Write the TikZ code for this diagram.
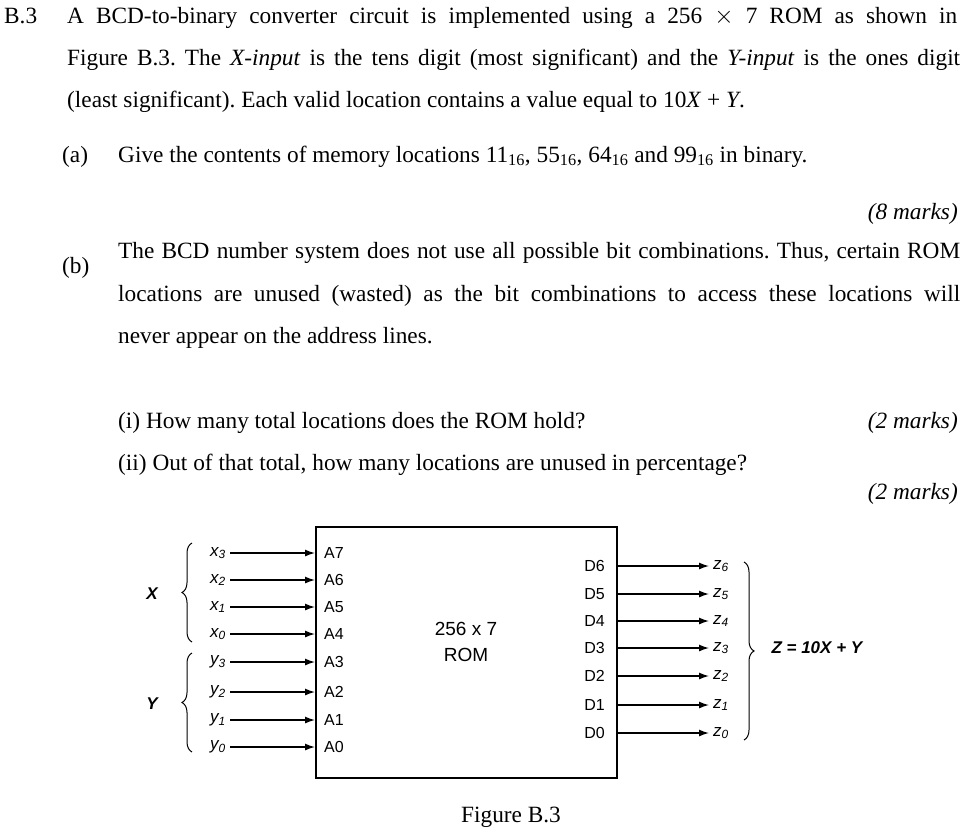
\documentclass[tikz,border=0pt]{standalone}
\usepackage{fontspec}
\setmainfont{Liberation Serif}
\setsansfont{Liberation Sans}
\usetikzlibrary{arrows.meta,decorations.pathreplacing}
\frenchspacing
\tikzset{
  para/.style={anchor=base west, inner sep=0pt, font=\fontsize{23.3}{26}\selectfont},
  marks/.style={anchor=base east, inner sep=0pt, font=\fontsize{23.3}{26}\selectfont\itshape},
  pin/.style={inner sep=0pt, font=\sffamily\fontsize{16}{18}\selectfont},
  sig/.style={inner sep=0pt, font=\sffamily\itshape\fontsize{17}{18}\selectfont},
  wire/.style={-{Latex[length=10pt,width=7pt]}, line width=1.3pt},
  curly/.style={decorate, decoration={brace, amplitude=10pt}, line width=1pt}
}
\begin{document}
\begin{tikzpicture}[x=1pt, y=-1pt]
\useasboundingbox (0,0) rectangle (965,833);
% Question text
\node[para] (qnum) at (4,23) {B.3};
\node[para] (l1) at (67,23) {\makebox[890pt][s]{A BCD-to-binary converter circuit is implemented using a 256 $\times$ 7 ROM as shown in}};
\node[para] (l2) at (67,65) {\makebox[893pt][s]{Figure B.3. The \textit{X-input} is the tens digit (most significant) and the \textit{Y-input} is the ones digit}};
\node[para] (l3) at (67,107) {(least significant). Each valid location contains a value equal to 10\textit{X} + \textit{Y}.};
\node[para] (pa) at (62,162) {(a)};
\node[para] (la) at (118,162) {Give the contents of memory locations 11\textsubscript{16}, 55\textsubscript{16}, 64\textsubscript{16} and 99\textsubscript{16} in binary.};
\node[marks] (ma) at (958,219) {(8 marks)};
\node[para] (pb) at (62,273) {(b)};
\node[para] (lb1) at (118,258) {\makebox[842pt][s]{The BCD number system does not use all possible bit combinations. Thus, certain ROM}};
\node[para] (lb2) at (118,301) {\makebox[842pt][s]{locations are unused (wasted) as the bit combinations to access these locations will}};
\node[para] (lb3) at (118,343) {never appear on the address lines.};
\node[para] (bi) at (118,428) {(i) How many total locations does the ROM hold?};
\node[marks] (mi) at (958,428) {(2 marks)};
\node[para] (bii) at (118,470) {(ii) Out of that total, how many locations are unused in percentage?};
\node[marks] (mii) at (958,499) {(2 marks)};

% ROM
\node[draw, line width=2pt, minimum width=301pt, minimum height=251pt, inner sep=0pt] (box) at (466.5,652.5) {};
\node[align=center, font=\sffamily\fontsize{19}{26}\selectfont] (rom) at (466,642) {256 x 7\\ROM};

% Inputs
\foreach \i/\y in {3/553, 2/580, 1/607, 0/634}
  \node[sig, anchor=east] (x\i) at (226,\y) {x\textsubscript{\i}};
\foreach \i/\y in {3/662, 2/692, 1/720, 0/747}
  \node[sig, anchor=east] (y\i) at (226,\y) {y\textsubscript{\i}};
\foreach \n/\y in {7/553, 6/580, 5/607, 4/634, 3/662, 2/692, 1/720, 0/747}
  \node[pin, anchor=west] (a\n) at (324,\y) {A\n};
\foreach \i/\n in {3/7, 2/6, 1/5, 0/4}
  \draw[wire] ([xshift=4pt]x\i.east) -- (a\n.west -| box.west);
\foreach \i/\n in {3/3, 2/2, 1/1, 0/0}
  \draw[wire] ([xshift=4pt]y\i.east) -- (a\n.west -| box.west);

\draw[curly] (192,642) -- (192,543);
\node[font=\sffamily\bfseries\itshape\fontsize{17}{20}\selectfont] (xlab) at (152,594) {X};
\draw[curly] (192,752) -- (192,653);
\node[font=\sffamily\bfseries\itshape\fontsize{17}{20}\selectfont] (ylab) at (152,704) {Y};

% Outputs
\foreach \n/\y in {6/566, 5/594, 4/621, 3/648, 2/676, 1/705, 0/733} {
  \node[pin, anchor=east] (d\n) at (605,\y) {D\n};
  \node[sig, anchor=west] (z\n) at (713,\y) {z\textsubscript{\n}};
  \draw[wire] (d\n.east -| box.east) -- ([xshift=-4pt]z\n.west);
}
\draw[curly] (744,562) -- (744,740);
\node[anchor=west, font=\sffamily\bfseries\itshape\fontsize{17}{20}\selectfont] (zeq) at (768,648) {Z = 10X + Y};

\node[para, anchor=base] (cap) at (511,822) {Figure B.3};
\end{tikzpicture}
\end{document}
